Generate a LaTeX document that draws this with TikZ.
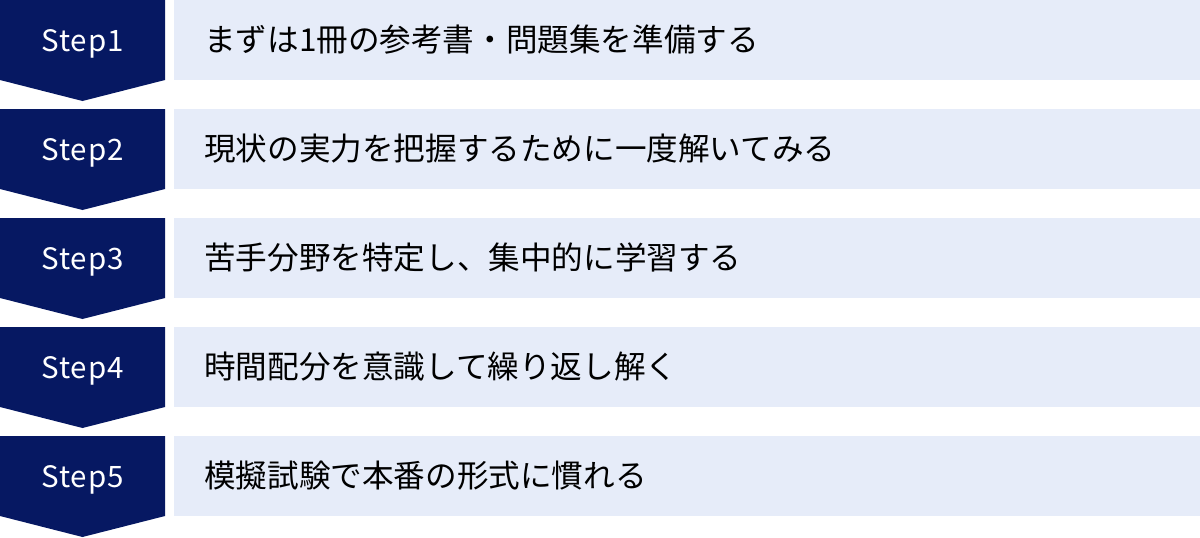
\documentclass[tikz,border=0pt]{standalone}
\usepackage{fontspec}
\setmainfont{Noto Sans CJK JP}
\newfontfamily\steplfont[LetterSpace=3.5]{Noto Sans CJK JP}
\definecolor{navy}{RGB}{6,24,98}
\definecolor{pale}{RGB}{230,236,249}
\tikzset{
  stepshape/.style={fill=navy,draw=none},
  steplabel/.style={text=white,font=\steplfont\fontsize{29.5}{32}\selectfont,anchor=base,inner sep=0pt},
  bar/.style={fill=pale,draw=none,minimum width=1026pt,minimum height=80pt,anchor=north west,inner sep=0pt},
  bartext/.style={text=black,font=\fontsize{31.6}{36}\selectfont,anchor=base west,inner sep=0pt}
}
\begin{document}
\begin{tikzpicture}[x=1pt,y=-1pt]
\useasboundingbox (0,0) rectangle (1200,538);
\foreach \i/\t in {1/{まずは1冊の参考書・問題集を準備する},2/{現状の実力を把握するために一度解いてみる},3/{苦手分野を特定し、集中的に学習する},4/{時間配分を意識して繰り返し解く},5/{模擬試験で本番の形式に慣れる}}{
  \pgfmathsetmacro{\yy}{(\i-1)*109}
  \fill[stepshape] (0,\yy) -- (165,\yy) -- (165,\yy+80) -- (82.5,\yy+101) -- (0,\yy+80) -- cycle;
  \node[steplabel] (s\i) at (82.5,\yy+51.5) {Step\i};
  \node[bar] (b\i) at (174,\yy) {};
  \node[bartext] (t\i) at (204,\yy+51) {\t};
}
\end{tikzpicture}
\end{document}
